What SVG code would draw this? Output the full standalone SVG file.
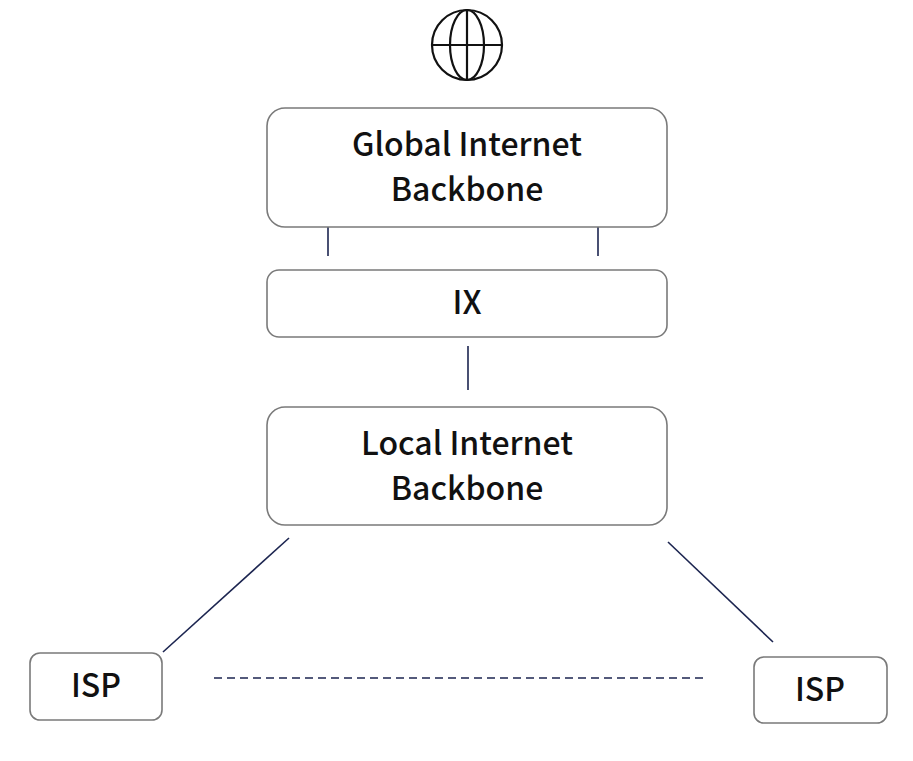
<svg xmlns="http://www.w3.org/2000/svg" width="913" height="761" viewBox="0 0 913 761">
<style>
.box{fill:#fff;stroke:#7a7a7a;stroke-width:1.6}
.t{font-family:"Noto Sans CJK KR","Noto Sans",sans-serif;font-size:32px;font-weight:500;fill:#111;text-anchor:middle}
.c{stroke:#1c2550;stroke-width:1.6;fill:none}
.g{stroke:#111;stroke-width:2.2;fill:none}
</style>
<rect width="913" height="761" fill="#fff"/>
<g id="globe">
<circle class="g" cx="467" cy="45" r="35"/>
<ellipse class="g" cx="467" cy="45" rx="17" ry="35"/>
<line class="g" x1="432" y1="45" x2="502" y2="45"/>
<line class="g" x1="467" y1="10" x2="467" y2="80"/>
</g>
<g id="connectors">
<line class="c" x1="328" y1="211" x2="328" y2="256"/>
<line class="c" x1="598" y1="211" x2="598" y2="256"/>
<line class="c" x1="468" y1="346" x2="468" y2="390"/>
<line class="c" x1="289" y1="538" x2="163" y2="652"/>
<line class="c" x1="668" y1="542" x2="773" y2="642"/>
<line class="c" x1="214" y1="678" x2="704" y2="678" stroke-dasharray="8,5"/>
</g>
<g id="global"><rect class="box" x="267" y="108" width="400" height="119" rx="18"/>
<text class="t" x="467" y="156">Global Internet</text><text class="t" x="467" y="201">Backbone</text></g>
<g id="ix"><rect class="box" x="267" y="270" width="400" height="67" rx="12"/>
<text class="t" x="467" y="314">IX</text></g>
<g id="local"><rect class="box" x="267" y="407" width="400" height="118" rx="18"/>
<text class="t" x="467" y="455">Local Internet</text><text class="t" x="467" y="500">Backbone</text></g>
<g id="isp1"><rect class="box" x="30" y="653" width="132" height="67" rx="10"/>
<text class="t" x="96" y="697">ISP</text></g>
<g id="isp2"><rect class="box" x="754" y="657" width="133" height="66" rx="10"/>
<text class="t" x="820" y="701">ISP</text></g>
</svg>
